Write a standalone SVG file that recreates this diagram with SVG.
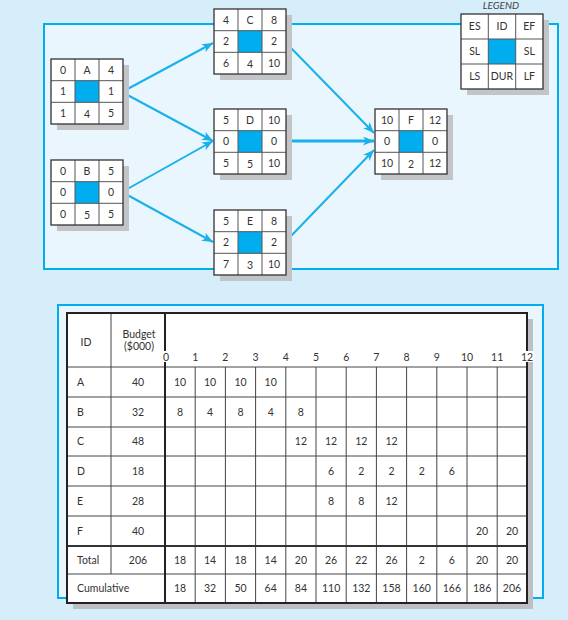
<svg xmlns="http://www.w3.org/2000/svg" width="568" height="620" viewBox="0 0 568 620">
<style>
.t{font-family:Lato,"Liberation Sans",sans-serif;font-size:10.5px;fill:#333;text-anchor:middle}
.tl{font-family:Lato,"Liberation Sans",sans-serif;font-size:10.5px;fill:#333;text-anchor:start}
.lg{font-family:Lato,"Liberation Sans",sans-serif;font-size:10px;fill:#444;font-style:italic;text-anchor:middle}
.panel{fill:#e9f6fd;stroke:#00aeef;stroke-width:2}
.arr{stroke:#1ab0ec;stroke-width:2;fill:none;marker-end:url(#ah)}
.grid{stroke:#444;stroke-width:1;fill:none}
</style>
<defs>
<marker id="ah" markerUnits="userSpaceOnUse" markerWidth="12" markerHeight="9" refX="11" refY="4.5" orient="auto">
<path d="M0,0 L11,4.5 L0,9 L3,4.5 Z" fill="#1ab0ec"/>
</marker>
<g id="frame">
<rect x="6" y="6" width="72" height="65" fill="#c3c4c8"/>
<rect x="0" y="0" width="72" height="65" fill="#fff"/>
<rect x="24" y="21.7" width="24" height="21.6" fill="#00aeef"/>
<path d="M24,0V65M48,0V65M0,21.7H72M0,43.3H72" stroke="#555" stroke-width="1"/>
<rect x="0" y="0" width="72" height="65" fill="none" stroke="#333" stroke-width="1.3"/>
</g>
</defs>
<rect width="568" height="620" fill="#d5eefa"/>
<rect class="panel" x="44" y="24" width="514" height="245"/>
<rect class="panel" x="58" y="305" width="485" height="293"/>

<g id="connectors">
<path class="arr" d="M122,92 L213,43"/>
<path class="arr" d="M122,92 L213,141"/>
<path class="arr" d="M122,192 L213,141"/>
<path class="arr" d="M122,192 L213,242"/>
<path class="arr" d="M291,48 L374,133"/>
<path class="arr" d="M291,141 L374,141" style="stroke-width:3"/>
<path class="arr" d="M291,236 L374,150"/>
</g>

<g id="node-A" transform="translate(51,59)">
<use href="#frame"/>
<text class="t" x="12" y="14.5">0</text><text class="t" x="36" y="14.5">A</text><text class="t" x="60" y="14.5">4</text>
<text class="t" x="12" y="36.2">1</text><text class="t" x="60" y="36.2">1</text>
<text class="t" x="12" y="57.9">1</text><text class="t" x="36" y="58.7">4</text><text class="t" x="60" y="57.9">5</text>
</g>
<g id="node-B" transform="translate(51,160)">
<use href="#frame"/>
<text class="t" x="12" y="14.5">0</text><text class="t" x="36" y="14.5">B</text><text class="t" x="60" y="14.5">5</text>
<text class="t" x="12" y="36.2">0</text><text class="t" x="60" y="36.2">0</text>
<text class="t" x="12" y="57.9">0</text><text class="t" x="36" y="58.7">5</text><text class="t" x="60" y="57.9">5</text>
</g>
<g id="node-C" transform="translate(214,9)">
<use href="#frame"/>
<text class="t" x="12" y="14.5">4</text><text class="t" x="36" y="14.5">C</text><text class="t" x="60" y="14.5">8</text>
<text class="t" x="12" y="36.2">2</text><text class="t" x="60" y="36.2">2</text>
<text class="t" x="12" y="57.9">6</text><text class="t" x="36" y="58.7">4</text><text class="t" x="60" y="57.9">10</text>
</g>
<g id="node-D" transform="translate(214,109)">
<use href="#frame"/>
<text class="t" x="12" y="14.5">5</text><text class="t" x="36" y="14.5">D</text><text class="t" x="60" y="14.5">10</text>
<text class="t" x="12" y="36.2">0</text><text class="t" x="60" y="36.2">0</text>
<text class="t" x="12" y="57.9">5</text><text class="t" x="36" y="58.7">5</text><text class="t" x="60" y="57.9">10</text>
</g>
<g id="node-E" transform="translate(214,210)">
<use href="#frame"/>
<text class="t" x="12" y="14.5">5</text><text class="t" x="36" y="14.5">E</text><text class="t" x="60" y="14.5">8</text>
<text class="t" x="12" y="36.2">2</text><text class="t" x="60" y="36.2">2</text>
<text class="t" x="12" y="57.9">7</text><text class="t" x="36" y="58.7">3</text><text class="t" x="60" y="57.9">10</text>
</g>
<g id="node-F" transform="translate(375,109)">
<use href="#frame"/>
<text class="t" x="12" y="14.5">10</text><text class="t" x="36" y="14.5">F</text><text class="t" x="60" y="14.5">12</text>
<text class="t" x="12" y="36.2">0</text><text class="t" x="60" y="36.2">0</text>
<text class="t" x="12" y="57.9">10</text><text class="t" x="36" y="58.7">2</text><text class="t" x="60" y="57.9">12</text>
</g>
<g id="legend">
<text class="lg" x="501" y="9">LEGEND</text>
<g transform="translate(461,14)">
<rect x="6" y="6" width="82" height="75" fill="#c3c4c8"/>
<rect x="0" y="0" width="82" height="75" fill="#fff"/>
<rect x="27.3" y="25" width="27.4" height="25" fill="#00aeef"/>
<path d="M27.3,0V75M54.7,0V75M0,25H82M0,50H82" stroke="#555" stroke-width="1"/>
<rect x="0" y="0" width="82" height="75" fill="none" stroke="#333" stroke-width="1.3"/>
<text class="t" x="13.7" y="16.2">ES</text><text class="t" x="41" y="16.2">ID</text><text class="t" x="68.3" y="16.2">EF</text>
<text class="t" x="13.7" y="41.2">SL</text><text class="t" x="68.3" y="41.2">SL</text>
<text class="t" x="13.7" y="66.2">LS</text><text class="t" x="41" y="66.2">DUR</text><text class="t" x="68.3" y="66.2">LF</text>
</g>
</g>

<g id="budget-table">
<rect x="73" y="319" width="460" height="290" fill="#bebfc4"/>
<rect x="67" y="313" width="460" height="290" fill="#fff"/>
<path class="grid" d="M67,367H527M67,397H527M67,427H527M67,456H527M67,486H527M67,516H527M67,574H527M111,313V574"/>
<path class="grid" d="M195.2,367V603M225.4,367V603M255.6,367V603M285.8,367V603M316,367V603M346.2,367V603M376.4,367V603M406.6,367V603M436.8,367V603M467,367V603M497.2,367V603"/>
<path d="M67,546H527" stroke="#333" stroke-width="1.8"/>
<path d="M165,313V603" stroke="#222" stroke-width="2"/>
<rect x="67" y="313" width="460" height="290" fill="none" stroke="#222" stroke-width="2"/>
<rect x="161" y="351" width="9" height="11" fill="#fff"/>
<rect x="520" y="351" width="14" height="11" fill="#fff"/>
<text class="t" x="86" y="346">ID</text>
<text class="t" x="139" y="337.5">Budget</text>
<text class="t" x="139" y="349.5">($000)</text>
<g class="hdr">
<text class="t" x="166" y="361">0</text><text class="t" x="195.2" y="361">1</text><text class="t" x="225.4" y="361">2</text><text class="t" x="255.6" y="361">3</text><text class="t" x="285.8" y="361">4</text><text class="t" x="316" y="361">5</text><text class="t" x="346.2" y="361">6</text><text class="t" x="376.4" y="361">7</text><text class="t" x="406.6" y="361">8</text><text class="t" x="436.8" y="361">9</text><text class="t" x="467" y="361">10</text><text class="t" x="497.2" y="361">11</text><text class="t" x="527" y="361">12</text>
</g>
<text class="tl" x="77" y="386">A</text><text class="t" x="138" y="386">40</text>
<text class="tl" x="77" y="416">B</text><text class="t" x="138" y="416">32</text>
<text class="tl" x="77" y="445">C</text><text class="t" x="138" y="445">48</text>
<text class="tl" x="77" y="475">D</text><text class="t" x="138" y="475">18</text>
<text class="tl" x="77" y="505">E</text><text class="t" x="138" y="505">28</text>
<text class="tl" x="77" y="535">F</text><text class="t" x="138" y="535">40</text>
<text class="tl" x="77" y="564">Total</text><text class="t" x="138" y="564">206</text>
<text class="tl" x="77" y="592">Cumulative</text>
<text class="t" x="180" y="386">10</text><text class="t" x="210" y="386">10</text><text class="t" x="240.5" y="386">10</text><text class="t" x="270.7" y="386">10</text>
<text class="t" x="180" y="416">8</text><text class="t" x="210" y="416">4</text><text class="t" x="240.5" y="416">8</text><text class="t" x="270.7" y="416">4</text><text class="t" x="300.9" y="416">8</text>
<text class="t" x="300.9" y="445">12</text><text class="t" x="331.1" y="445">12</text><text class="t" x="361.3" y="445">12</text><text class="t" x="391.5" y="445">12</text>
<text class="t" x="331.1" y="475">6</text><text class="t" x="361.3" y="475">2</text><text class="t" x="391.5" y="475">2</text><text class="t" x="421.7" y="475">2</text><text class="t" x="451.9" y="475">6</text>
<text class="t" x="331.1" y="505">8</text><text class="t" x="361.3" y="505">8</text><text class="t" x="391.5" y="505">12</text>
<text class="t" x="482.1" y="535">20</text><text class="t" x="512" y="535">20</text>
<text class="t" x="180" y="564">18</text><text class="t" x="210" y="564">14</text><text class="t" x="240.5" y="564">18</text><text class="t" x="270.7" y="564">14</text><text class="t" x="300.9" y="564">20</text><text class="t" x="331.1" y="564">26</text><text class="t" x="361.3" y="564">22</text><text class="t" x="391.5" y="564">26</text><text class="t" x="421.7" y="564">2</text><text class="t" x="451.9" y="564">6</text><text class="t" x="482.1" y="564">20</text><text class="t" x="512" y="564">20</text>
<text class="t" x="180" y="592">18</text><text class="t" x="210" y="592">32</text><text class="t" x="240.5" y="592">50</text><text class="t" x="270.7" y="592">64</text><text class="t" x="300.9" y="592">84</text><text class="t" x="331.1" y="592">110</text><text class="t" x="361.3" y="592">132</text><text class="t" x="391.5" y="592">158</text><text class="t" x="421.7" y="592">160</text><text class="t" x="451.9" y="592">166</text><text class="t" x="482.1" y="592">186</text><text class="t" x="512" y="592">206</text>
</g>
</svg>
